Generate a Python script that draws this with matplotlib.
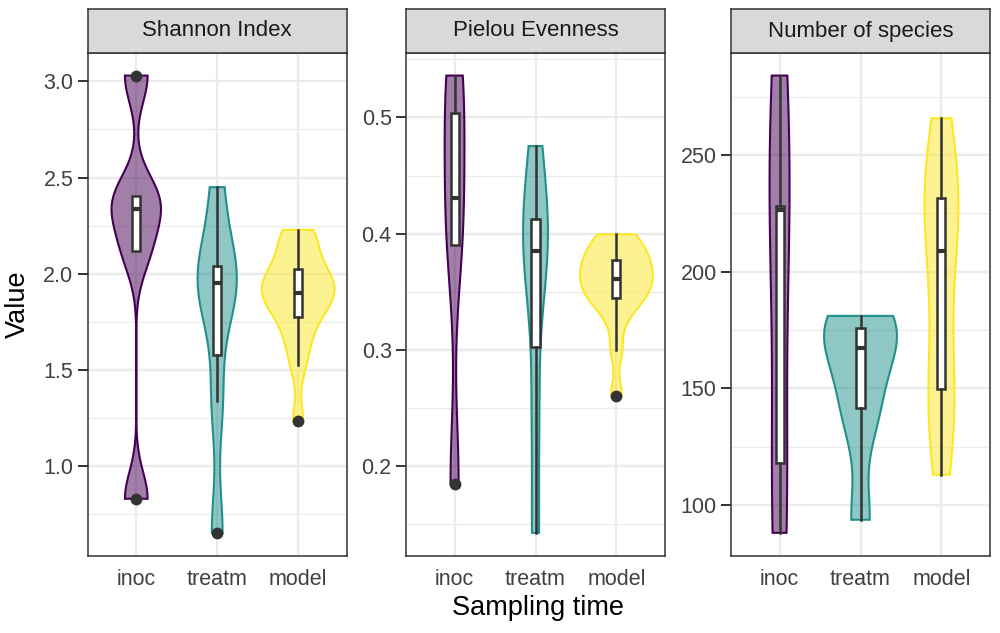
import numpy as np
import matplotlib
matplotlib.use('Agg')
import matplotlib.pyplot as plt
from matplotlib.patches import Polygon
from matplotlib.colors import to_rgba

plt.rcParams['font.family'] = ['Liberation Sans', 'DejaVu Sans']

categories = ['inoc', 'treatm', 'model']
colors = ['#440154', '#21908C', '#FDE725']
panel_titles = ['Shannon Index', 'Pielou Evenness', 'Number of species']

# values per sample
shannon_inoc = [0.83, 2.12, 2.337, 2.406, 3.03]
shannon_treatm = [0.653, 1.34, 1.81, 1.95, 1.99, 2.09, 2.45]
shannon_model = [1.232, 1.523, 1.63, 1.72, 1.774, 1.83, 1.87, 1.89, 1.90,
                 1.93, 1.96, 1.99, 2.022, 2.07, 2.16, 2.20, 2.228]

pielou_inoc = [0.185, 0.39, 0.431, 0.504, 0.536]
pielou_treatm = [0.1428, 0.25, 0.356, 0.3852, 0.405, 0.4198, 0.4754]
pielou_model = [0.2607, 0.300, 0.326, 0.338, 0.3446, 0.348, 0.352, 0.357, 0.361,
                0.366, 0.371, 0.374, 0.377, 0.384, 0.390, 0.396, 0.3995]

species_inoc = [88, 118, 226.5, 228, 284]
species_treatm = [93.6, 135, 147.8, 167.1, 174, 177.4, 181]
species_model = [112.9, 125, 133, 142, 149.6, 160, 172, 190, 208.6,
                 215, 220, 226, 231.4, 240, 248, 256, 265.7]

shannon_ticks = [1.0, 1.5, 2.0, 2.5, 3.0]
pielou_ticks = [0.2, 0.3, 0.4, 0.5]
species_ticks = [100, 150, 200, 250]

panels = [
    (panel_titles[0], [shannon_inoc, shannon_treatm, shannon_model], shannon_ticks, '{:.1f}'),
    (panel_titles[1], [pielou_inoc, pielou_treatm, pielou_model], pielou_ticks, '{:.1f}'),
    (panel_titles[2], [species_inoc, species_treatm, species_model], species_ticks, '{:.0f}'),
]


def violin_profile(vals):
    # gaussian kde with R's bw.nrd0, trimmed to the data range
    x = np.asarray(vals, float)
    q1, q3 = np.percentile(x, [25, 75])
    lo = min(np.std(x, ddof=1), (q3 - q1) / 1.34)
    bw = 0.9 * lo * len(x) ** -0.2
    grid = np.linspace(x.min(), x.max(), 512)
    z = (grid[:, None] - x[None, :]) / bw
    dens = np.exp(-0.5 * z ** 2).sum(axis=1) / (len(x) * bw * np.sqrt(2 * np.pi))
    return grid, dens


fig = plt.figure(figsize=(10, 6.33), dpi=100)

W, H = 1000.0, 633.0
lefts = [87.7, 406.0, 731.0]
pw = 259.0
top_px, bot_px, strip_top = 52.7, 555.7, 9.3
grey20 = '#333333'

for k, (title, groups, ticks, fmt) in enumerate(panels):
    ax = fig.add_axes([lefts[k] / W, (H - bot_px) / H, pw / W, (bot_px - top_px) / H])
    sax = fig.add_axes([lefts[k] / W, (H - top_px) / H, pw / W, (top_px - strip_top) / H])

    allv = np.concatenate([np.asarray(g, float) for g in groups])
    r = allv.max() - allv.min()
    ylo, yhi = allv.min() - 0.05 * r, allv.max() + 0.05 * r

    # grid
    step = ticks[1] - ticks[0]
    minors = np.arange(ticks[0] - step / 2, yhi + step, step)
    for m in minors:
        if ylo < m < yhi:
            ax.axhline(m, color='#EBEBEB', lw=0.9, zorder=0)
    for t in ticks:
        ax.axhline(t, color='#EBEBEB', lw=1.7, zorder=0)
    for i in range(len(categories)):
        ax.axvline(i + 1, color='#EBEBEB', lw=1.7, zorder=0)

    profiles = [violin_profile(g) for g in groups]
    maxd = max(d.max() for _, d in profiles)
    for i, ((grid, dens), col) in enumerate(zip(profiles, colors)):
        pos = i + 1
        hw = 0.45 * dens / maxd
        xs = np.concatenate([pos - hw, (pos + hw)[::-1]])
        ys = np.concatenate([grid, grid[::-1]])
        ax.add_patch(Polygon(np.column_stack([xs, ys]), closed=True,
                             facecolor=to_rgba(col, 0.5), edgecolor=col,
                             linewidth=1.5, zorder=2))
        ax.boxplot(groups[i], positions=[pos], widths=0.1, patch_artist=True,
                   showcaps=False, whis=1.5, manage_ticks=False, zorder=3,
                   boxprops=dict(facecolor='white', edgecolor=grey20, linewidth=1.8),
                   medianprops=dict(color=grey20, linewidth=3.0),
                   whiskerprops=dict(color=grey20, linewidth=1.8),
                   flierprops=dict(marker='o', markerfacecolor=grey20,
                                   markeredgecolor=grey20, markersize=7.5))

    ax.set_xlim(0.4, 3.6)
    ax.set_ylim(ylo, yhi)
    ax.set_xticks([1, 2, 3])
    ax.set_xticklabels(categories)
    ax.set_yticks(ticks)
    ax.set_yticklabels([fmt.format(t) for t in ticks])
    ax.tick_params(axis='x', length=0, pad=9.5, labelsize=15.5, labelcolor='#404040')
    ax.tick_params(axis='y', length=7, width=1.4, color=grey20, pad=3.3,
                   labelsize=15.5, labelcolor='#404040')
    for s in ax.spines.values():
        s.set_color(grey20)
        s.set_linewidth(1.1)
    ax.set_facecolor('white')

    sax.set_facecolor('#D9D9D9')
    sax.set_xticks([])
    sax.set_yticks([])
    for s in sax.spines.values():
        s.set_color(grey20)
        s.set_linewidth(1.1)
    sax.text(0.5, 0.5, title, ha='center', va='center', fontsize=16,
             color='#1A1A1A', transform=sax.transAxes)

fig.text(0.018, (H - 304) / H, 'Value', rotation=90, ha='center', va='center', fontsize=19.5)
fig.text(0.538, (H - 608) / H, 'Sampling time', ha='center', va='center', fontsize=19.5)

fig.savefig('out.png', dpi=100)
